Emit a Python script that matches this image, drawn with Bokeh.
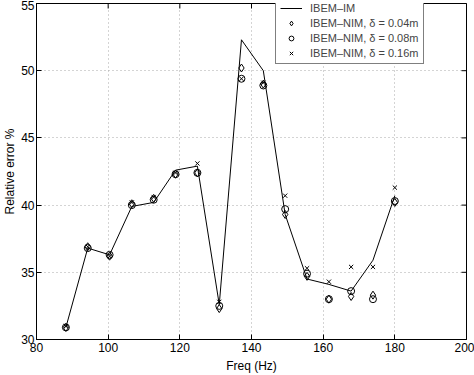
import math
from bokeh.plotting import figure
from bokeh.models import Legend, LegendItem, FixedTicker
from bokeh.embed import file_html
from bokeh.resources import INLINE

freq = [88.2, 94.3, 100.4, 106.6, 112.7, 118.8, 124.9, 131.0, 137.2, 143.3, 149.4, 155.5, 161.6, 167.8, 173.9, 180.0]
ibem_im = [30.9, 36.8, 36.3, 39.9, 40.2, 42.6, 42.9, 32.6, 52.3, 50.0, 39.3, 34.5, 34.1, 33.6, 35.9, 40.7]
nim_004 = [30.9, 36.9, 36.2, 40.1, 40.5, 42.3, 42.4, 32.3, 50.2, 49.0, 39.3, 34.7, 33.0, 33.2, 33.3, 40.2]
nim_008 = [30.9, 36.8, 36.3, 40.0, 40.4, 42.3, 42.4, 32.5, 49.4, 48.9, 39.7, 34.9, 33.0, 33.6, 33.0, 40.3]
nim_016 = [31.0, 36.9, 36.2, 40.2, 40.6, 42.4, 43.1, 32.8, 49.4, 49.1, 40.7, 35.3, 34.3, 35.4, 35.4, 41.3]
x_ticks = [80, 100, 120, 140, 160, 180, 200]
y_ticks = [30, 35, 40, 45, 50, 55]

FONT = "Liberation Sans"
X0, X1 = x_ticks[0], x_ticks[-1]
Y0, Y1 = y_ticks[0], y_ticks[-1]

p = figure(width=474, height=375, x_range=(X0, X1), y_range=(Y0, Y1),
           output_backend="svg", toolbar_location=None,
           min_border_left=35, min_border_right=8, min_border_top=3, min_border_bottom=32)
p.background_fill_color = "white"
p.border_fill_color = "white"
p.outline_line_color = "black"
p.outline_line_width = 1

for ax in [p.xaxis[0], p.yaxis[0]]:
    ax.major_tick_in = 5
    ax.major_tick_out = 0
    ax.minor_tick_in = 0
    ax.minor_tick_out = 0
    ax.axis_line_color = "black"
    ax.major_tick_line_color = "black"
    ax.major_label_text_font = FONT
    ax.major_label_text_font_size = "12px"
    ax.major_label_text_color = "black"
    ax.major_label_text_line_height = 1.0
    ax.axis_label_text_font = FONT
    ax.axis_label_text_font_size = "12px"
    ax.axis_label_text_font_style = "normal"
    ax.axis_label_text_color = "black"
    ax.axis_label_text_line_height = 1.0

p.xaxis.major_label_standoff = 3
p.xaxis.axis_label_standoff = 4
p.yaxis.major_label_standoff = 2
p.yaxis.axis_label_standoff = 1

p.xaxis.ticker = FixedTicker(ticks=x_ticks)
p.yaxis.ticker = FixedTicker(ticks=y_ticks)
p.xaxis.axis_label = "Freq (Hz)"
p.yaxis.axis_label = "Relative error %"

p.xgrid.ticker = FixedTicker(ticks=x_ticks)
p.ygrid.ticker = FixedTicker(ticks=y_ticks)
p.grid.grid_line_color = "#a8a8a8"
p.grid.grid_line_dash = "1 3"
p.grid.grid_line_width = 1

# inward ticks on the top and right edges of the box
p.scatter(x_ticks, [Y1] * len(x_ticks), marker="dash", size=10, angle=math.pi / 2,
          line_color="black", line_width=1)
p.scatter([X1] * len(y_ticks), y_ticks, marker="dash", size=10,
          line_color="black", line_width=1)

r_line = p.line(freq, ibem_im, line_color="black", line_width=1)
r_d = p.scatter(freq, nim_004, marker="diamond", size=8, line_color="black", fill_alpha=0, line_width=1)
r_c = p.scatter(freq, nim_008, marker="circle", size=7, line_color="black", fill_alpha=0, line_width=1)
r_x = p.scatter(freq, nim_016, marker="x", size=6, line_color="black", line_width=1)

legend = Legend(items=[
    LegendItem(label="IBEM\u2013IM", renderers=[r_line]),
    LegendItem(label="IBEM\u2013NIM, \u03b4 = 0.04m", renderers=[r_d]),
    LegendItem(label="IBEM\u2013NIM, \u03b4 = 0.08m", renderers=[r_c]),
    LegendItem(label="IBEM\u2013NIM, \u03b4 = 0.16m", renderers=[r_x]),
], location=(239, 275))
legend.border_line_color = "black"
legend.border_line_width = 1
legend.background_fill_color = "white"
legend.background_fill_alpha = 1
legend.label_text_font = FONT
legend.label_text_font_size = "11px"
legend.glyph_width = 22
legend.glyph_height = 12
legend.label_height = 12
legend.spacing = 3
legend.padding = 4
legend.margin = 0
legend.label_standoff = 8
p.add_layout(legend)

open("out.html", "w").write(file_html(p, INLINE))
